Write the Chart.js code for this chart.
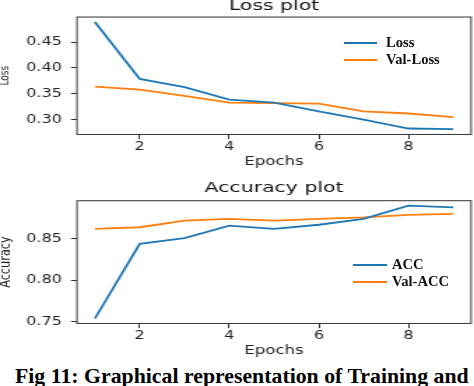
<!DOCTYPE html>
<html>
<head>
<meta charset="utf-8">
<script src="https://cdn.jsdelivr.net/npm/chart.js@4/dist/chart.umd.min.js"></script>
<style>
  html, body { margin: 0; padding: 0; background: #fff; }
  body { position: relative; width: 474px; height: 386px; overflow: hidden; }
  canvas { position: absolute; left: 0; }
  .legend { position: absolute; font-family: "Liberation Serif", "Times New Roman", serif; font-weight: bold; font-size: 14.6px; color: #111; }
  .legend .row { display: flex; align-items: center; height: 17px; }
  .legend .swatch { display: inline-block; height: 2px; }
  #lossLegend { left: 344px; top: 34px; }
  #lossLegend .swatch { width: 33px; margin-right: 9px; }
  #accLegend { left: 353px; top: 256px; }
  #accLegend .swatch { width: 34px; margin-right: 5px; }
  #caption { position: absolute; left: 15px; top: 366px; font-family: "Liberation Serif", "Times New Roman", serif; font-weight: bold; font-size: 21.8px; line-height: 1; white-space: nowrap; color: #000; }
</style>
</head>
<body>
<!-- inline sizes: the canvases are drawn 339 wide and stretched to 474 like the source figure -->
<canvas id="lossChart" width="339" height="175" style="top:0;width:474px;height:175px"></canvas>
<canvas id="accChart" width="339" height="189" style="top:175px;width:474px;height:189px"></canvas>
<div id="lossLegend" class="legend"></div>
<div id="accLegend" class="legend"></div>
<div id="caption">Fig 11: Graphical representation of Training and</div>
<script>
const epochs = [1, 2, 3, 4, 5, 6, 7, 8, 9];
const loss = [0.489, 0.379, 0.363, 0.339, 0.333, 0.316, 0.300, 0.283, 0.282];
const valLoss = [0.364, 0.358, 0.346, 0.333, 0.332, 0.331, 0.316, 0.312, 0.305];
const acc = [0.754, 0.844, 0.851, 0.866, 0.862, 0.867, 0.874, 0.890, 0.888];
const valAcc = [0.862, 0.864, 0.872, 0.874, 0.872, 0.874, 0.876, 0.879, 0.880];

const epochTicks = [2, 4, 6, 8];
const lossTicks = [0.30, 0.35, 0.40, 0.45];
const accTicks = [0.75, 0.80, 0.85];

const BLUE = "#1f77b4";
const ORANGE = "#ff7f0e";
const FONT = "'DejaVu Sans', sans-serif";

const frame = {
  id: "frame",
  afterDraw(chart) {
    const { ctx, chartArea } = chart;
    ctx.save();
    ctx.strokeStyle = "#333";
    ctx.lineWidth = 1;
    ctx.strokeRect(chartArea.left, chartArea.top, chartArea.width, chartArea.height);
    ctx.restore();
  },
};

// legend kept as html so it is not stretched with the canvas
const htmlLegend = {
  id: "htmlLegend",
  afterUpdate(chart, args, opts) {
    const box = document.getElementById(opts.containerID);
    box.innerHTML = "";
    chart.data.datasets.forEach((ds) => {
      const row = document.createElement("div");
      row.classList.add("row");
      const swatch = document.createElement("span");
      swatch.classList.add("swatch");
      swatch.style.background = ds.borderColor;
      const text = document.createElement("span");
      text.innerText = ds.label;
      row.appendChild(swatch);
      row.appendChild(text);
      box.appendChild(row);
    });
  },
};

function toPoints(values) {
  return epochs.map((e, i) => ({ x: e, y: values[i] }));
}

function makeChart(id, legendId, title, yTitle, yTitleSize, sets, yMin, yMax, yTicks, padTop, titleGap) {
  const ctx = document.getElementById(id).getContext("2d");
  return new Chart(ctx, {
    type: "line",
    data: {
      datasets: sets.map((s) => ({
        label: s.label,
        data: toPoints(s.values),
        borderColor: s.color,
        backgroundColor: s.color,
        borderWidth: 1.8,
        pointRadius: 0,
        tension: 0,
        fill: false,
      })),
    },
    options: {
      responsive: false,
      animation: false,
      events: [],
      layout: { padding: { top: padTop, left: 0, right: 2.1, bottom: 0 } },
      plugins: {
        legend: { display: false },
        tooltip: { enabled: false },
        title: {
          display: true,
          text: title,
          fullSize: false,
          color: "#111",
          font: { family: FONT, size: 14.6, weight: "normal", lineHeight: 0.9 },
          padding: { top: 0, bottom: titleGap },
        },
        htmlLegend: { containerID: legendId },
      },
      scales: {
        x: {
          type: "linear",
          min: 0.6,
          max: 9.4,
          afterBuildTicks: (scale) => {
            scale.ticks = epochTicks.map((v) => ({ value: v }));
          },
          grid: { drawOnChartArea: false, drawTicks: true, tickLength: 4.7, tickColor: "#333" },
          border: { display: false },
          ticks: { color: "#222", padding: 1, maxRotation: 0, font: { family: FONT, size: 11.4 } },
          title: {
            display: true,
            text: "Epochs",
            color: "#222",
            font: { family: FONT, size: 11.8 },
            padding: { top: 0, bottom: 6 },
          },
        },
        y: {
          min: yMin,
          max: yMax,
          afterBuildTicks: (scale) => {
            scale.ticks = yTicks.map((v) => ({ value: v }));
          },
          afterFit: (scale) => {
            scale.width = 55.07;
          },
          grid: { drawOnChartArea: false, drawTicks: true, tickLength: 4.3, tickColor: "#333" },
          border: { display: false },
          ticks: {
            color: "#222",
            padding: 6.6,
            font: { family: FONT, size: 11.4 },
            callback: (v) => Number(v).toFixed(2),
          },
          title: {
            display: true,
            text: yTitle,
            color: "#222",
            font: { family: FONT, size: yTitleSize, lineHeight: 0.8 },
            padding: { top: 0, bottom: 0 },
          },
        },
      },
    },
    plugins: [frame, htmlLegend],
  });
}

makeChart(
  "lossChart", "lossLegend", "Loss plot", "Loss", 9,
  [
    { label: "Loss", values: loss, color: BLUE },
    { label: "Val-Loss", values: valLoss, color: ORANGE },
  ],
  0.2715, 0.4985, lossTicks, 0, 3.9
);

makeChart(
  "accChart", "accLegend", "Accuracy plot", "Accuracy", 11.3,
  [
    { label: "ACC", values: acc, color: BLUE },
    { label: "Val-ACC", values: valAcc, color: ORANGE },
  ],
  0.748, 0.896, accTicks, 6.3, 6.26
);
</script>
</body>
</html>
